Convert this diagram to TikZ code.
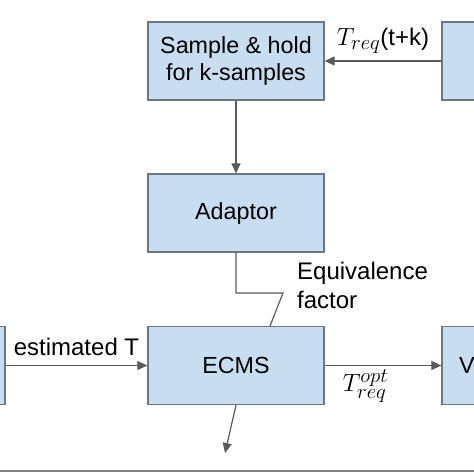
\documentclass[tikz,border=0pt]{standalone}
\usepackage{fontspec}
\setmainfont{Liberation Sans}
\usetikzlibrary{arrows.meta}
\definecolor{boxfill}{HTML}{C8DDF0}
\definecolor{boxline}{HTML}{6B7785}
\definecolor{wire}{HTML}{5A5A5A}
\begin{document}
\begin{tikzpicture}[x=1pt,y=-1pt,
  blk/.style={draw=boxline, line width=1.3pt, fill=boxfill, minimum width=176pt, minimum height=78pt, inner sep=0pt, align=center, font=\fontsize{23.3}{27}\selectfont},
  wireline/.style={draw=wire, line width=1.2pt},
  arr/.style={wireline, -{Triangle[length=10pt,width=9pt]}},
  lbl/.style={inner sep=0pt, font=\fontsize{24}{29}\selectfont},
  mathbig/.style={font=\fontsize{28}{30}\selectfont}]
\useasboundingbox (0,0) rectangle (474,474);
\clip (0,0) rectangle (474,474);
\node[blk] (sample) at (236,61) {Sample \& hold\\for k-samples};
\node[blk] (adaptor) at (236,213) {Adaptor};
\node[blk] (ecms) at (236,365.5) {ECMS};
\node[blk] (est) at (-83,365.5) {};
\node[blk] (pred) at (530,61) {};
\node[blk] (veh) at (530,365.5) {};
\node[anchor=west, inner sep=0pt, font=\fontsize{23.3}{27}\selectfont] (vtxt) at (459,365.5) {V};
% connectors
\draw[arr] (pred.west) -- (sample.east) node[midway, above=7pt, lbl] (treq) {{\fontsize{28}{30}\selectfont$T_{req}$}(t+k)};
\draw[arr] (sample.south) -- (adaptor.north);
\coordinate (b1) at (236,293);
\coordinate (b2) at (283,293);
\coordinate (b3) at (270,326);
\draw[wireline] (adaptor.south) -- (b1) -- (b2) -- (b3);
\node[lbl, anchor=north west, align=left] (eqf) at (297,262) {Equivalence\\factor};
\draw[arr] (est.east) -- (ecms.west) node[midway, above=9pt, lbl] (estT) {estimated T};
\draw[arr] (ecms.east) -- (veh.west) node[pos=0.35, below=4pt, inner sep=0pt, mathbig] (topt) {$T_{req}^{opt}$};
\coordinate (out) at (225,453);
\draw[arr] (ecms.south) -- (out);
\draw[draw=gray, line width=1.5pt] (0,471) -- (474,471);
\end{tikzpicture}
\end{document}
